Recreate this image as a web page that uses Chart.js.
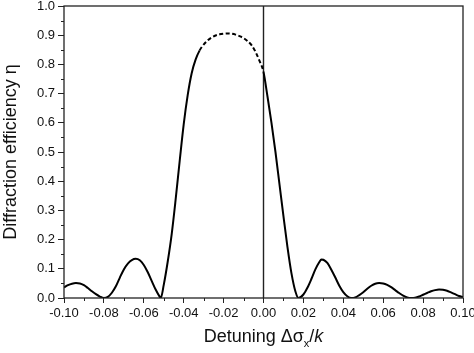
<!DOCTYPE html>
<html><head><meta charset="utf-8">
<script src="https://cdn.jsdelivr.net/npm/chart.js@4/dist/chart.umd.min.js"></script>
<style>html,body{margin:0;background:#fff}#wrap{width:474px;height:353px}</style>
</head><body><div id="wrap"><canvas id="c"></canvas></div>
<script>
// detuning Δσx/k vs diffraction efficiency η
const detuning = [
  -0.100,-0.098,-0.096,-0.094,-0.092,-0.090,-0.088,-0.086,-0.084,-0.082,
  -0.080,-0.078,-0.076,-0.074,-0.072,-0.070,-0.068,-0.066,-0.064,-0.062,
  -0.060,-0.058,-0.056,-0.054,-0.052,-0.0515,-0.050,-0.048,-0.046,-0.044,
  -0.042,-0.040,-0.038,-0.036,-0.034,-0.032,-0.030,-0.028,-0.026,-0.024,
  -0.022,-0.020,-0.018,-0.016,-0.014,-0.012,-0.010,-0.008,-0.006,-0.004,
  -0.002,0.000,0.002,0.004,0.006,0.008,0.010,0.012,0.014,0.016,
  0.0175,0.020,0.022,0.024,0.026,0.028,0.029,0.030,0.032,0.034,
  0.036,0.038,0.040,0.042,0.044,0.046,0.048,0.050,0.052,0.054,
  0.056,0.058,0.060,0.062,0.064,0.066,0.068,0.070,0.072,0.074,
  0.076,0.078,0.080,0.082,0.084,0.086,0.088,0.090,0.092,0.094,
  0.096,0.098,0.100
];
const efficiency = [
  0.036,0.044,0.049,0.051,0.050,0.044,0.034,0.023,0.013,0.005,
  0.000,0.004,0.018,0.040,0.070,0.098,0.118,0.130,0.134,0.129,
  0.113,0.088,0.058,0.028,0.004,0.000,0.045,0.125,0.220,0.340,
  0.470,0.595,0.695,0.770,0.817,0.848,0.868,0.882,0.892,0.899,
  0.903,0.905,0.906,0.905,0.902,0.897,0.890,0.880,0.866,0.843,
  0.812,0.774,0.690,0.600,0.500,0.390,0.280,0.175,0.085,0.022,
  0.000,0.012,0.035,0.065,0.098,0.123,0.132,0.131,0.120,0.097,
  0.070,0.042,0.020,0.006,0.000,0.002,0.010,0.020,0.032,0.042,
  0.049,0.051,0.050,0.045,0.037,0.027,0.017,0.008,0.002,0.000,
  0.001,0.005,0.011,0.017,0.023,0.027,0.029,0.028,0.025,0.019,
  0.013,0.007,0.003
];
const dashFrom = -0.032, dashTo = 0.000;   // dashed stretch over the top of the main lobe
const markerX = 0;                          // vertical reference line
const xMin = -0.10, xMax = 0.10, xStep = 0.02;
const yMin = 0, yMax = 1.0, yStep = 0.1;

const pts = detuning.map((x, i) => ({ x, y: efficiency[i] }));

const frame = {
  id: 'frame',
  afterDatasetsDraw(chart) {
    const { ctx, chartArea: a, scales: { x, y } } = chart;
    ctx.save();
    ctx.strokeStyle = '#222'; ctx.lineWidth = 1.3;
    ctx.strokeRect(a.left, a.top, a.right - a.left, a.bottom - a.top);
    // minor ticks
    ctx.lineWidth = 1;
    ctx.beginPath();
    for (let v = xMin + xStep / 2; v < xMax; v += xStep) {
      const px = Math.round(x.getPixelForValue(v)) + 0.5;
      ctx.moveTo(px, a.bottom); ctx.lineTo(px, a.bottom + 3);
    }
    for (let v = yMin + yStep / 2; v < yMax; v += yStep) {
      const py = Math.round(y.getPixelForValue(v)) + 0.5;
      ctx.moveTo(a.left, py); ctx.lineTo(a.left - 3, py);
    }
    ctx.stroke();
    // x title with subscript and italic k
    const parts = [
      { t: 'Detuning \u0394\u03c3', f: '18px "Liberation Sans", Arial', dy: 0 },
      { t: 'x', f: '11px "Liberation Sans", Arial', dy: 5 },
      { t: '/', f: '18px "Liberation Sans", Arial', dy: 0 },
      { t: 'k', f: 'italic 18px "Liberation Sans", Arial', dy: 0 }
    ];
    let w = 0;
    parts.forEach(p => { ctx.font = p.f; p.w = ctx.measureText(p.t).width; w += p.w; });
    let cx = (a.left + a.right) / 2 - w / 2;
    ctx.fillStyle = '#111'; ctx.textBaseline = 'alphabetic'; ctx.textAlign = 'left';
    parts.forEach(p => { ctx.font = p.f; ctx.fillText(p.t, cx, 342 + p.dy); cx += p.w; });
    ctx.restore();
  }
};

new Chart(document.getElementById('c'), {
  type: 'line',
  data: {
    datasets: [
      {
        data: pts, borderColor: '#000', borderWidth: 2, pointRadius: 0,
        cubicInterpolationMode: 'monotone', fill: false,
        segment: {
          borderDash: ctx => (ctx.p0.parsed.x >= dashFrom - 1e-9 && ctx.p1.parsed.x <= dashTo + 1e-9) ? [4, 2.5] : undefined
        }
      },
      {
        data: [{ x: markerX, y: yMin }, { x: markerX, y: yMax }],
        borderColor: '#222', borderWidth: 1.4, pointRadius: 0
      }
    ]
  },
  options: {
    responsive: true, maintainAspectRatio: false, animation: false,
    layout: { padding: { top: 6, right: 11, left: 0, bottom: 0 } },
    plugins: { legend: { display: false }, tooltip: { enabled: false } },
    scales: {
      x: {
        type: 'linear', min: xMin, max: xMax,
        afterFit: s => { s.height = 55; s.paddingLeft = 0; s.paddingRight = 0; },
        border: { display: false },
        grid: { drawOnChartArea: false, tickLength: 5, color: '#222', tickWidth: 1 },
        ticks: {
          stepSize: xStep, padding: 3, color: '#111', maxRotation: 0,
          font: { family: '"Liberation Sans", Arial', size: 13 },
          callback: v => (Math.abs(v) < 1e-9 ? 0 : v).toFixed(2)
        }
      },
      y: {
        min: yMin, max: yMax,
        afterFit: s => { s.width = 64; s.paddingTop = 0; s.paddingBottom = 0; },
        border: { display: false },
        grid: { drawOnChartArea: false, tickLength: 6, color: '#222', tickWidth: 1 },
        ticks: {
          stepSize: yStep, padding: 3, color: '#111',
          font: { family: '"Liberation Sans", Arial', size: 13 },
          callback: v => v.toFixed(1)
        },
        title: {
          display: true, text: 'Diffraction efficiency \u03b7', color: '#111',
          font: { family: '"Liberation Sans", Arial', size: 18 }, padding: 0
        }
      }
    }
  },
  plugins: [frame]
});
</script>
</body></html>
